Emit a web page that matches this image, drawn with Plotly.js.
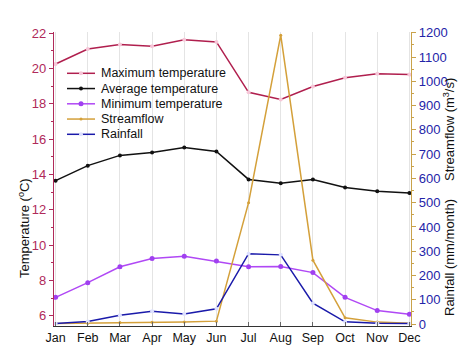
<!DOCTYPE html>
<html>
<head>
<meta charset="utf-8">
<script src="https://cdn.plot.ly/plotly-3.0.1.min.js"></script>
<style>html,body{margin:0;padding:0;background:#fff;}#chart{width:474px;height:358px;}</style>
</head>
<body>
<div id="chart"></div>
<script>
// ---- data ----
var months = ['Jan','Feb','Mar','Apr','May','Jun','Jul','Aug','Sep','Oct','Nov','Dec'];
var maxTemp = [20.25, 21.1, 21.35, 21.25, 21.62, 21.5, 18.65, 18.24, 18.98, 19.47, 19.7, 19.65];
var avgTemp = [13.65, 14.5, 15.08, 15.24, 15.52, 15.3, 13.72, 13.5, 13.72, 13.27, 13.05, 12.95];
var minTemp = [7.05, 7.88, 8.78, 9.25, 9.38, 9.1, 8.78, 8.8, 8.45, 7.05, 6.3, 6.1];
var streamflow = [2, 3, 6, 7, 8, 12, 500, 1190, 263, 26, 8, 3];
var rainfall = [2, 11, 36, 53, 41, 63, 290, 285, 86, 9, 3, 2];
var seriesNames = ['Maximum temperature','Average temperature','Minimum temperature','Streamflow','Rainfall'];

// ---- styles ----
var colors = ['#b01f4e', '#111111', '#b048f5', '#d4a03a', '#1a1aaa'];
var markerFill = ['#f6c6d8', '#111111', '#a040f0', '#d4a03a', '#dde0ff'];
var markerSize = [4, 4, 5, 3, 4];
var FONT = 'Liberation Sans, Arial, sans-serif';

var W = 474, H = 358, L = 54, R = 63, T = 32, B = 32;
var pw = W - L - R, ph = H - T - B;
function px2x(p){ return (p - L) / pw; }
function py2y(p){ return (H - B - p) / ph; }

var xIdx = months.map(function(_, i){ return i; });
var yData = [maxTemp, avgTemp, minTemp, streamflow, rainfall];
var axesFor = ['y', 'y', 'y', 'y2', 'y2'];

var traces = yData.map(function(d, k){
  return {
    x: xIdx, y: d, yaxis: axesFor[k], name: seriesNames[k],
    type: 'scatter', mode: 'lines+markers',
    line: {color: colors[k], width: 1.5},
    marker: {size: markerSize[k], color: markerFill[k], line: {width: 0}},
    showlegend: false, hoverinfo: 'skip'
  };
});

// manual legend
var shapes = [], annotations = [];
var legTop = 73.3, legGap = 15.25;
seriesNames.forEach(function(n, k){
  var yy = py2y(legTop + k * legGap);
  shapes.push({type: 'line', xref: 'paper', yref: 'paper', x0: px2x(67), x1: px2x(95), y0: yy, y1: yy,
    line: {color: colors[k], width: 1.5}});
  shapes.push({type: 'circle', xref: 'paper', yref: 'paper', xsizemode: 'pixel', ysizemode: 'pixel',
    xanchor: px2x(81), yanchor: yy, x0: -markerSize[k]/2, x1: markerSize[k]/2, y0: -markerSize[k]/2, y1: markerSize[k]/2,
    fillcolor: markerFill[k], line: {width: 0}});
  annotations.push({xref: 'paper', yref: 'paper', x: px2x(99), y: yy, xanchor: 'left', yanchor: 'middle',
    text: n, showarrow: false, font: {family: FONT, size: 12.5, color: '#111'}});
});

// axis titles
function vtitle(txt, px, py){
  return {xref: 'paper', yref: 'paper', x: px2x(px), y: py2y(py), xanchor: 'center', yanchor: 'middle',
    textangle: -90, text: txt, showarrow: false, font: {family: FONT, size: 13, color: '#111'}};
}
annotations.push(vtitle('Temperature (<sup>o</sup>C)', 24, 228));
annotations.push(vtitle('Streamflow (m<sup>3</sup>/s)', 449, 130));
annotations.push(vtitle('Rainfall (mm/month)', 449, 258));

var layout = {
  width: W, height: H,
  margin: {l: L, r: R, t: T, b: B, pad: 0},
  paper_bgcolor: '#fff', plot_bgcolor: '#fff',
  font: {family: FONT, size: 12, color: '#111'},
  showlegend: false,
  xaxis: {
    range: [-0.05, 11.05], tickvals: xIdx, ticktext: months,
    showgrid: true, gridcolor: '#e4e4e4', gridwidth: 1,
    showline: true, linecolor: '#333', linewidth: 1,
    ticks: 'inside', ticklen: 4, tickcolor: '#666',
    tickfont: {family: FONT, size: 12.5, color: '#111'}, zeroline: false
  },
  yaxis: {
    range: [5.43, 22.06], tickvals: [6, 8, 10, 12, 14, 16, 18, 20, 22],
    showgrid: false, zeroline: false,
    showline: true, linecolor: '#b02a5a', linewidth: 1.2,
    ticks: 'outside', ticklen: 4, tickcolor: '#b02a5a',
    minor: {dtick: 1, ticks: 'outside', ticklen: 2, tickcolor: '#b02a5a', showgrid: false},
    tickfont: {family: FONT, size: 13, color: '#b02a5a'}
  },
  yaxis2: {
    overlaying: 'y', side: 'right',
    range: [-8, 1203], tickvals: [0,100,200,300,400,500,600,700,800,900,1000,1100,1200],
    showgrid: false, zeroline: false,
    showline: true, linecolor: '#c9a24a', linewidth: 1.2,
    ticks: 'outside', ticklen: 4, tickcolor: '#c9a24a',
    minor: {dtick: 50, ticks: 'outside', ticklen: 2, tickcolor: '#c9a24a', showgrid: false},
    tickfont: {family: FONT, size: 13, color: '#2424a8'}
  },
  shapes: shapes,
  annotations: annotations
};

Plotly.newPlot('chart', traces, layout, {displayModeBar: false, staticPlot: true});
</script>
</body>
</html>
